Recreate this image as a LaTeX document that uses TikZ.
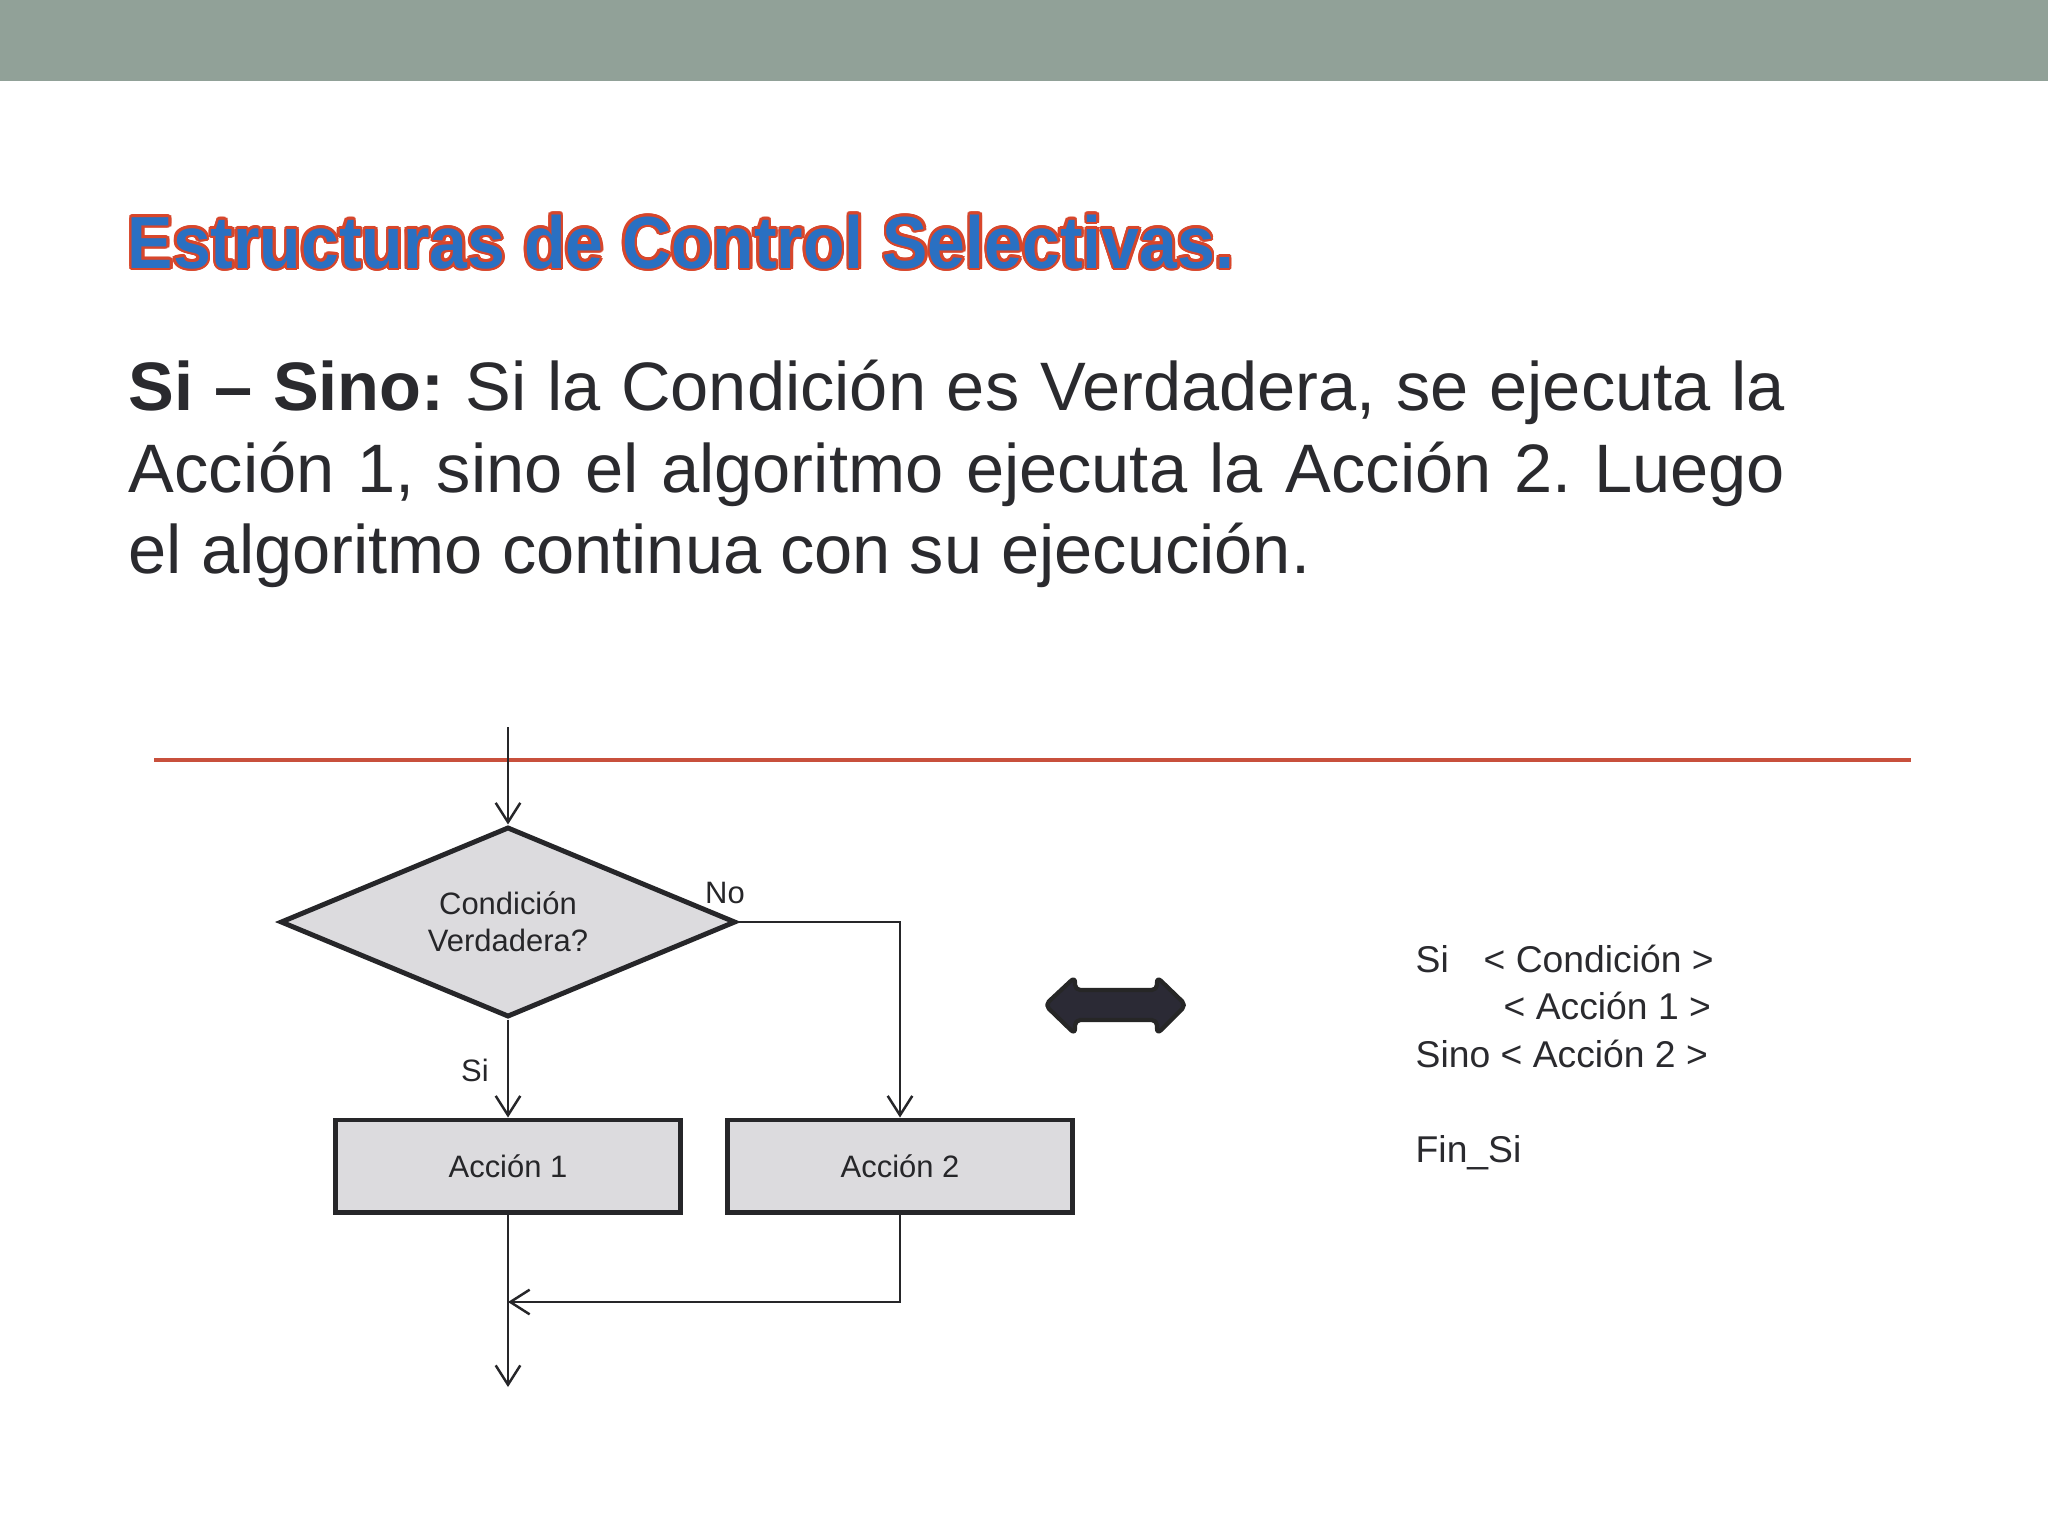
\documentclass[tikz,border=0pt]{standalone}
\usepackage{fontspec}
\setmainfont{Liberation Sans}
\usepackage[copies]{contour}
\usepackage{tikz}
\usetikzlibrary{arrows.meta,shapes.geometric}

\definecolor{barcol}{HTML}{91A198}
\definecolor{titleblue}{HTML}{2A70C2}
\definecolor{titlered}{HTML}{D8462B}
\definecolor{rulered}{HTML}{C8503C}
\definecolor{bodytext}{HTML}{2A2A2E}
\definecolor{ink}{HTML}{262629}
\definecolor{boxgray}{HTML}{DCDBDE}
\definecolor{dblarrow}{HTML}{2B2A35}
\contourlength{0.8pt}
\frenchspacing

\begin{document}
\begin{tikzpicture}[
  x=0.01cm, y=-0.01cm,
  flow/.style={draw=ink, line width=1.4pt, fill=boxgray, text=ink, font=\fontsize{8.8}{10.5}\selectfont, align=center, inner sep=0pt},
  cond/.style={flow, diamond, aspect=2.36, minimum width=4.55cm, minimum height=1.9cm},
  act/.style={flow, rectangle, minimum width=3.45cm, minimum height=0.92cm},
  arr/.style={-{Straight Barb[length=5.5pt,width=7pt]}, line width=0.7pt, draw=ink},
  lbl/.style={font=\fontsize{8.8}{10.5}\selectfont, text=ink, inner sep=0pt},
  body/.style={font=\fontsize{19.5}{23.3}\selectfont, text=bodytext, anchor=base west, inner sep=0pt},
  code/.style={font=\fontsize{10.6}{12.7}\selectfont, text=bodytext, anchor=base west, inner sep=0pt}
]
\useasboundingbox (0,0) rectangle (2048,1536);
\fill[white] (0,0) rectangle (2048,1536);
\fill[barcol] (0,0) rectangle (2048,81);

% title and text
\node[anchor=base west, inner sep=0pt, font=\fontsize{21}{25}\selectfont\bfseries] (title) at (127,268)
  {\scalebox{0.92}[1]{\color{titleblue}\contour{titlered}{Estructuras de Control Selectivas.}}};
\node[body] (line1) at (128,410) {\makebox[471pt][s]{\textbf{Si – Sino:} Si la Condición es Verdadera, se ejecuta la}};
\node[body] (line2) at (128,492) {\makebox[471pt][s]{Acción 1, sino el algoritmo ejecuta la Acción 2. Luego}};
\node[body] (line3) at (128,573) {el algoritmo continua con su ejecución.};

\draw[rulered, line width=0.9pt] (154,760) -- (1911,760);

% flowchart
\node[cond] (cond) at (508,922) {Condición\\Verdadera?};
\node[act] (acc1) at (508,1166) {Acción 1};
\node[act] (acc2) at (900,1166) {Acción 2};
\coordinate (entry) at (508,727);
\coordinate (exit) at (508,1387);
\coordinate (merge) at (508,1302);
\node[lbl] (si) at (475,1070) {Si};
\node[lbl] (no) at (725,893) {No};

\draw[arr] (entry) -- (cond.north);
\draw[arr] (cond.south) -- (acc1.north);
\draw[arr] (cond.east) -| (acc2.north);
\draw[arr] (acc1.south) -- (exit);
\draw[arr] (acc2.south) |- (merge);

% equivalence arrow
\draw[fill=dblarrow, draw=black!85, line width=1.2pt, rounded corners=1.5pt, line join=round]
  (1045,1005) -- (1075,977) -- (1075,990) -- (1157,990) -- (1157,977) -- (1186,1005)
  -- (1157,1034) -- (1157,1020) -- (1075,1020) -- (1075,1034) -- cycle;

% pseudocode
\node[code] (ps1) at (1415,972) {Si};
\node[code] (ps1b) at (1483,972) {< Condición >};
\node[code] (ps2) at (1503,1019) {< Acción 1 >};
\node[code] (ps3) at (1415,1067) {Sino < Acción 2 >};
\node[code] (ps4) at (1415,1162) {Fin\_Si};
\end{tikzpicture}
\end{document}
